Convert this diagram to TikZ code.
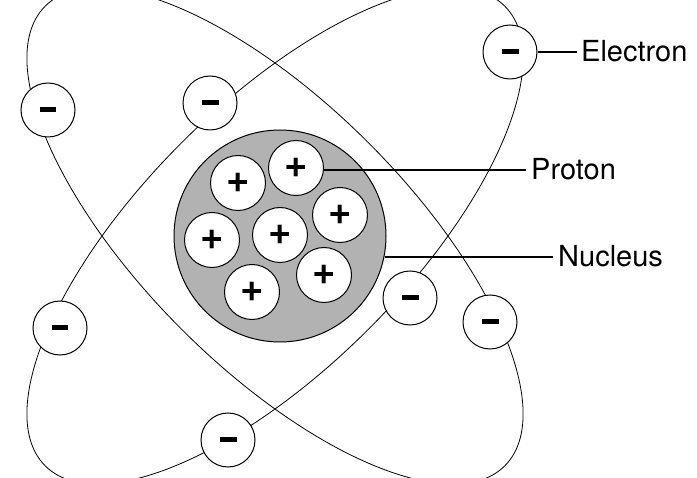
\documentclass[tikz,border=0pt]{standalone}
\usepackage{fontspec}
\setmainfont{TeX Gyre Heros}
\begin{document}
\begin{tikzpicture}[x=1pt,y=-1pt,
  orb/.style={draw,line width=0.8pt},
  ele/.style={circle,draw,line width=1pt,fill=white,minimum size=54pt,inner sep=0pt},
  pro/.style={circle,draw,line width=1pt,fill=white,minimum size=55pt,inner sep=0pt,font=\bfseries\fontsize{40}{40}\selectfont},
  lab/.style={anchor=west,font=\fontsize{29}{32}\selectfont,inner sep=0pt},
  ln/.style={line width=1.6pt}]
\useasboundingbox (0,0) rectangle (697,478);
\draw[orb,rotate around={45:(275,236)}] (275,236) ellipse (325 and 132);
\draw[orb,rotate around={-45:(275,236)}] (275,236) ellipse (325 and 132);
\node[circle,draw,line width=1pt,fill=black!30,minimum size=212pt] (nuc) at (280,236) {};
\foreach \n/\x/\y in {p1/238/183,p2/296/168,p3/340/215,p4/212/240,p5/280/235,p6/324/275,p7/252/292}
  \node[pro] (\n) at (\x,\y) {+};
\foreach \n/\x/\y in {e1/48/110,e2/210/103,e3/510/52,e4/410/298,e5/490/322,e6/60/328,e7/228/440}
  \node[ele] (\n) at (\x,\y) {\rule{17pt}{5pt}};
\coordinate (ce) at (577,52);
\coordinate (cp) at (526,170);
\coordinate (cn) at (553,257);
\draw[ln] (e3.east) -- (ce);
\draw[ln] (p2.east |- cp) -- (cp);
\draw[ln] (nuc.east |- cn) ++(-2,0) -- (cn);
\node[lab] (te) at ([xshift=4pt,yshift=1pt]ce) {Electron};
\node[lab] (tp) at ([xshift=5pt,yshift=1pt]cp) {Proton};
\node[lab] (tn) at ([xshift=5pt,yshift=1pt]cn) {Nucleus};
\end{tikzpicture}
\end{document}
